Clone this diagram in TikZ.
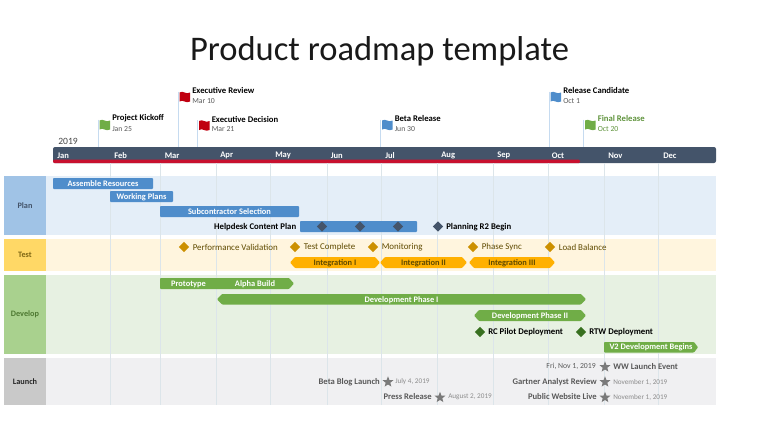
\documentclass[tikz,border=0pt]{standalone}
\usepackage{fontspec}
\setmainfont{Carlito}
\usetikzlibrary{shapes.geometric,shapes.misc,calc}
\definecolor{navy}{HTML}{44546A}
\definecolor{barred}{HTML}{C8102E}
\definecolor{barblue}{HTML}{4F8DCB}
\definecolor{flagred}{HTML}{C00010}
\definecolor{flaggreen}{HTML}{70AD47}
\definecolor{gridc}{HTML}{DCE5EA}
\definecolor{planband}{HTML}{E4EEF8}
\definecolor{planlab}{HTML}{A0C3E6}
\definecolor{testband}{HTML}{FFF5DE}
\definecolor{testlab}{HTML}{FFD866}
\definecolor{devband}{HTML}{E7F1E2}
\definecolor{devlab}{HTML}{A9D18E}
\definecolor{lauband}{HTML}{F0F0F2}
\definecolor{laulab}{HTML}{C9C9C9}
\definecolor{intorange}{HTML}{FFB000}
\definecolor{gold}{HTML}{CC9000}
\definecolor{darkgreen}{HTML}{38701F}
\definecolor{stargray}{HTML}{7A7A7A}
\definecolor{textgray}{HTML}{595959}
\definecolor{datelight}{HTML}{8C8C8C}
\definecolor{intext}{HTML}{5F4A00}
\tikzset{
  x=0.75pt,y=-0.75pt,
  band/.style={inner sep=0,outer sep=0,anchor=north west},
  gridline/.style={draw=gridc,line width=0.35pt},
  pole/.style={draw=planlab!60,line width=0.6pt},
  mtitle/.style={font=\fontsize{6.5}{7}\selectfont\bfseries,anchor=west,inner sep=0,text=black},
  mdate/.style={font=\fontsize{5.8}{7}\selectfont,anchor=west,inner sep=0,text=textgray},
  month/.style={font=\fontsize{6.4}{7}\selectfont\bfseries,anchor=west,inner sep=0,text=white},
  rowlab/.style={font=\fontsize{6.2}{7}\selectfont\bfseries,inner sep=0},
  bartext/.style={font=\fontsize{6.3}{7}\selectfont\bfseries,inner sep=0,text=white},
  dia/.style={diamond,inner sep=0,minimum width=7.8pt,minimum height=7.8pt,fill=#1},
  lab/.style={font=\fontsize{6.55}{7}\selectfont\bfseries,inner sep=0,anchor=west,text=black},
  gl/.style={font=\fontsize{6.7}{7}\selectfont,inner sep=0,anchor=west,text=intext},
  stm/.style={star,star points=5,star point ratio=2.3,inner sep=0,minimum size=8.5pt,fill=stargray},
  sl/.style={font=\fontsize{6.45}{7}\selectfont\bfseries,inner sep=0,text=textgray},
  sd/.style={font=\fontsize{5.4}{6}\selectfont,inner sep=0,text=datelight},
}
% name, x, top y, colour, title colour, title, date colour, date
\newcommand{\flagmark}[8]{%
  \coordinate (#1) at (#2,#3);
  \draw[pole] (#1) -- (#1 |- tl.north);
  \fill[#4] ($(#1)+(1.5,1)$) .. controls ($(#1)+(5,-1.5)$) and ($(#1)+(8,3.5)$) .. ($(#1)+(12,1)$)
     -- ($(#1)+(12,10)$) .. controls ($(#1)+(8,12.5)$) and ($(#1)+(5,7.5)$) .. ($(#1)+(1.5,10)$) -- cycle;
  \node[mtitle,text=#5] (#1t) at ($(#1)+(14,-1)$) {#6};
  \node[mdate,text=#7] (#1d) at ($(#1)+(14,9.5)$) {#8};}
% name, x1, x2, y1, y2, left point, right point, colour, text
\newcommand{\chev}[9]{%
  \fill[#8,rounded corners=0.6pt] ({#2+#6},#4) -- ({#3-#7},#4) -- (#3,{(#4+#5)/2}) -- ({#3-#7},#5) -- ({#2+#6},#5) -- (#2,{(#4+#5)/2}) -- cycle;
  \node[bartext] (#1) at ({(#2+#3)/2},{(#4+#5)/2+0.5}) {#9};}
\begin{document}
\begin{tikzpicture}
\useasboundingbox (0,0) rectangle (768,433);
\node[font=\fontsize{25.9}{28}\selectfont,inner sep=0,text=black!90] (title) at (379.5,51) {Product roadmap template};
% bands
\node[band,fill=planband,minimum width=670*0.75pt,minimum height=59*0.75pt] (planb) at (46,176) {};
\node[band,fill=testband,minimum width=670*0.75pt,minimum height=32*0.75pt] (testb) at (46,239) {};
\node[band,fill=devband,minimum width=670*0.75pt,minimum height=79*0.75pt] (devb) at (46,275) {};
\node[band,fill=lauband,minimum width=670*0.75pt,minimum height=47*0.75pt] (laub) at (46,358) {};
\node[band,fill=planlab,minimum width=42*0.75pt,minimum height=59*0.75pt] (planl) at (4,176) {};
\node[band,fill=testlab,minimum width=42*0.75pt,minimum height=32*0.75pt] (testl) at (4,239) {};
\node[band,fill=devlab,minimum width=42*0.75pt,minimum height=79*0.75pt] (devl) at (4,275) {};
\node[band,fill=laulab,minimum width=42*0.75pt,minimum height=47*0.75pt] (laul) at (4,358) {};
\node[rowlab,text=navy] (planlt) at (planl) {Plan};
\node[rowlab,text=intext!80!testlab] (testlt) at (testl) {Test};
\node[rowlab,text=flaggreen!70!black] (devlt) at (devl) {Develop};
\node[rowlab,text=black!85] (lault) at (laul) {Launch};
% timeline
\node[band,fill=navy,rounded corners=1.5pt,minimum width=663*0.75pt,minimum height=16*0.75pt] (tl) at (53,147) {};
\fill[barred,rounded corners=1pt] (53,159.5) rectangle (580,163.2);
\node[font=\fontsize{7.2}{8}\selectfont,inner sep=0,anchor=west,text=textgray!80!black] (year) at (58,141.5) {2019};
\foreach \n/\x in {Jan/57,Feb/114,Mar/164.5,Apr/220,May/275,Jun/330.5,Jul/385,Aug/441,Sep/497,Oct/551.5,Nov/608,Dec/663}
  \node[month] (m\n) at (\x,155.5) {\n};
% grid
\foreach \x in {110,160.5,216.5,270.5,327,381,437,493.5,548,604,658.5}
  \draw[gridline] (\x,163) -- (\x,405);
% flags
\flagmark{pk}{98}{119.5}{flaggreen}{black}{Project Kickoff}{textgray}{Jan 25}
\flagmark{er}{178}{91.5}{flagred}{black}{Executive Review}{textgray}{Mar 10}
\flagmark{ed}{197.5}{120}{flagred}{black}{Executive Decision}{textgray}{Mar 21}
\flagmark{br}{380.5}{119.5}{barblue}{black}{Beta Release}{textgray}{Jun 30}
\flagmark{rc}{549}{91.5}{barblue}{black}{Release Candidate}{textgray}{Oct 1}
\flagmark{fr}{583.5}{119.5}{flaggreen}{flaggreen!85!black}{Final Release}{flaggreen!85!black}{Oct 20}
% plan
\chev{ar}{53}{153}{178}{189}{0}{0}{barblue}{Assemble Resources}
\chev{wp}{110}{173}{191}{202}{0}{0}{barblue}{Working Plans}
\chev{ss}{160}{299}{206}{217}{0}{0}{barblue}{Subcontractor Selection}
\chev{hb}{300}{417}{221}{232}{0}{0}{barblue}{}
\node[lab,anchor=east] (hl) at (296.5,227) {Helpdesk Content Plan};
\node[dia=navy] (h1) at (322,226.5) {};
\node[dia=navy] (h2) at (360,226.5) {};
\node[dia=navy] (h3) at (398,226.5) {};
\node[dia=navy] (p2) at (438,226.5) {};
\node[lab] (p2t) at (446,227) {Planning R2 Begin};
% test
\foreach \k/\x/\t in {a/184/Performance Validation,b/295/Test Complete,c/373/Monitoring,d/473/Phase Sync,e/550/Load Balance}{
  \node[dia=gold] (t\k) at (\x,247) {};
  \node[gl] (t\k t) at (\x+8.5,247) {\t};
}
\chev{i1}{290}{380}{257}{268}{5}{5}{intorange}{\textcolor{intext}{Integration I}}
\chev{i2}{380}{467}{257}{268}{5}{5}{intorange}{\textcolor{intext}{Integration II}}
\chev{i3}{469}{555}{257}{268}{5}{5}{intorange}{\textcolor{intext}{Integration III}}
% develop
\chev{pr}{160}{294}{278}{289}{0}{5}{flaggreen}{}
\node[bartext] (prt) at (188.5,284) {Prototype};
\node[bartext] (abt) at (255,284) {Alpha Build};
\chev{d1}{217}{586}{294}{304.5}{5}{5}{flaggreen}{Development Phase I}
\chev{d2}{474}{586}{310}{321}{5}{5}{flaggreen}{Development Phase II}
\node[dia=darkgreen] (rc1) at (480,332) {};
\node[lab] (rc1t) at (488,332.5) {RC Pilot Deployment};
\node[dia=darkgreen] (rt1) at (581,332) {};
\node[lab] (rt1t) at (589,332.5) {RTW Deployment};
\chev{v2}{604}{698}{342}{352.5}{0}{4}{flaggreen}{V2 Development Begins}
% launch
\node[stm] (s1) at (605,367) {};
\node[sd,font=\fontsize{5.8}{7}\selectfont,text=textgray,anchor=east] (s1d) at (596,366.5) {Fri, Nov 1, 2019};
\node[sl,anchor=west] (s1t) at (613,366.5) {WW Launch Event};
\node[stm] (s2) at (388,382) {};
\node[sl,anchor=east] (s2t) at (380,382) {Beta Blog Launch};
\node[sd,anchor=west] (s2d) at (395,382) {July 4, 2019};
\node[stm] (s3) at (605,382) {};
\node[sl,anchor=east] (s3t) at (597,382) {Gartner Analyst Review};
\node[sd,anchor=west] (s3d) at (613,382) {November 1, 2019};
\node[stm] (s4) at (440,397.5) {};
\node[sl,anchor=east] (s4t) at (432,397) {Press Release};
\node[sd,anchor=west] (s4d) at (448,397) {August 2, 2019};
\node[stm] (s5) at (605,397.5) {};
\node[sl,anchor=east] (s5t) at (597,397) {Public Website Live};
\node[sd,anchor=west] (s5d) at (613,397) {November 1, 2019};
\end{tikzpicture}
\end{document}
